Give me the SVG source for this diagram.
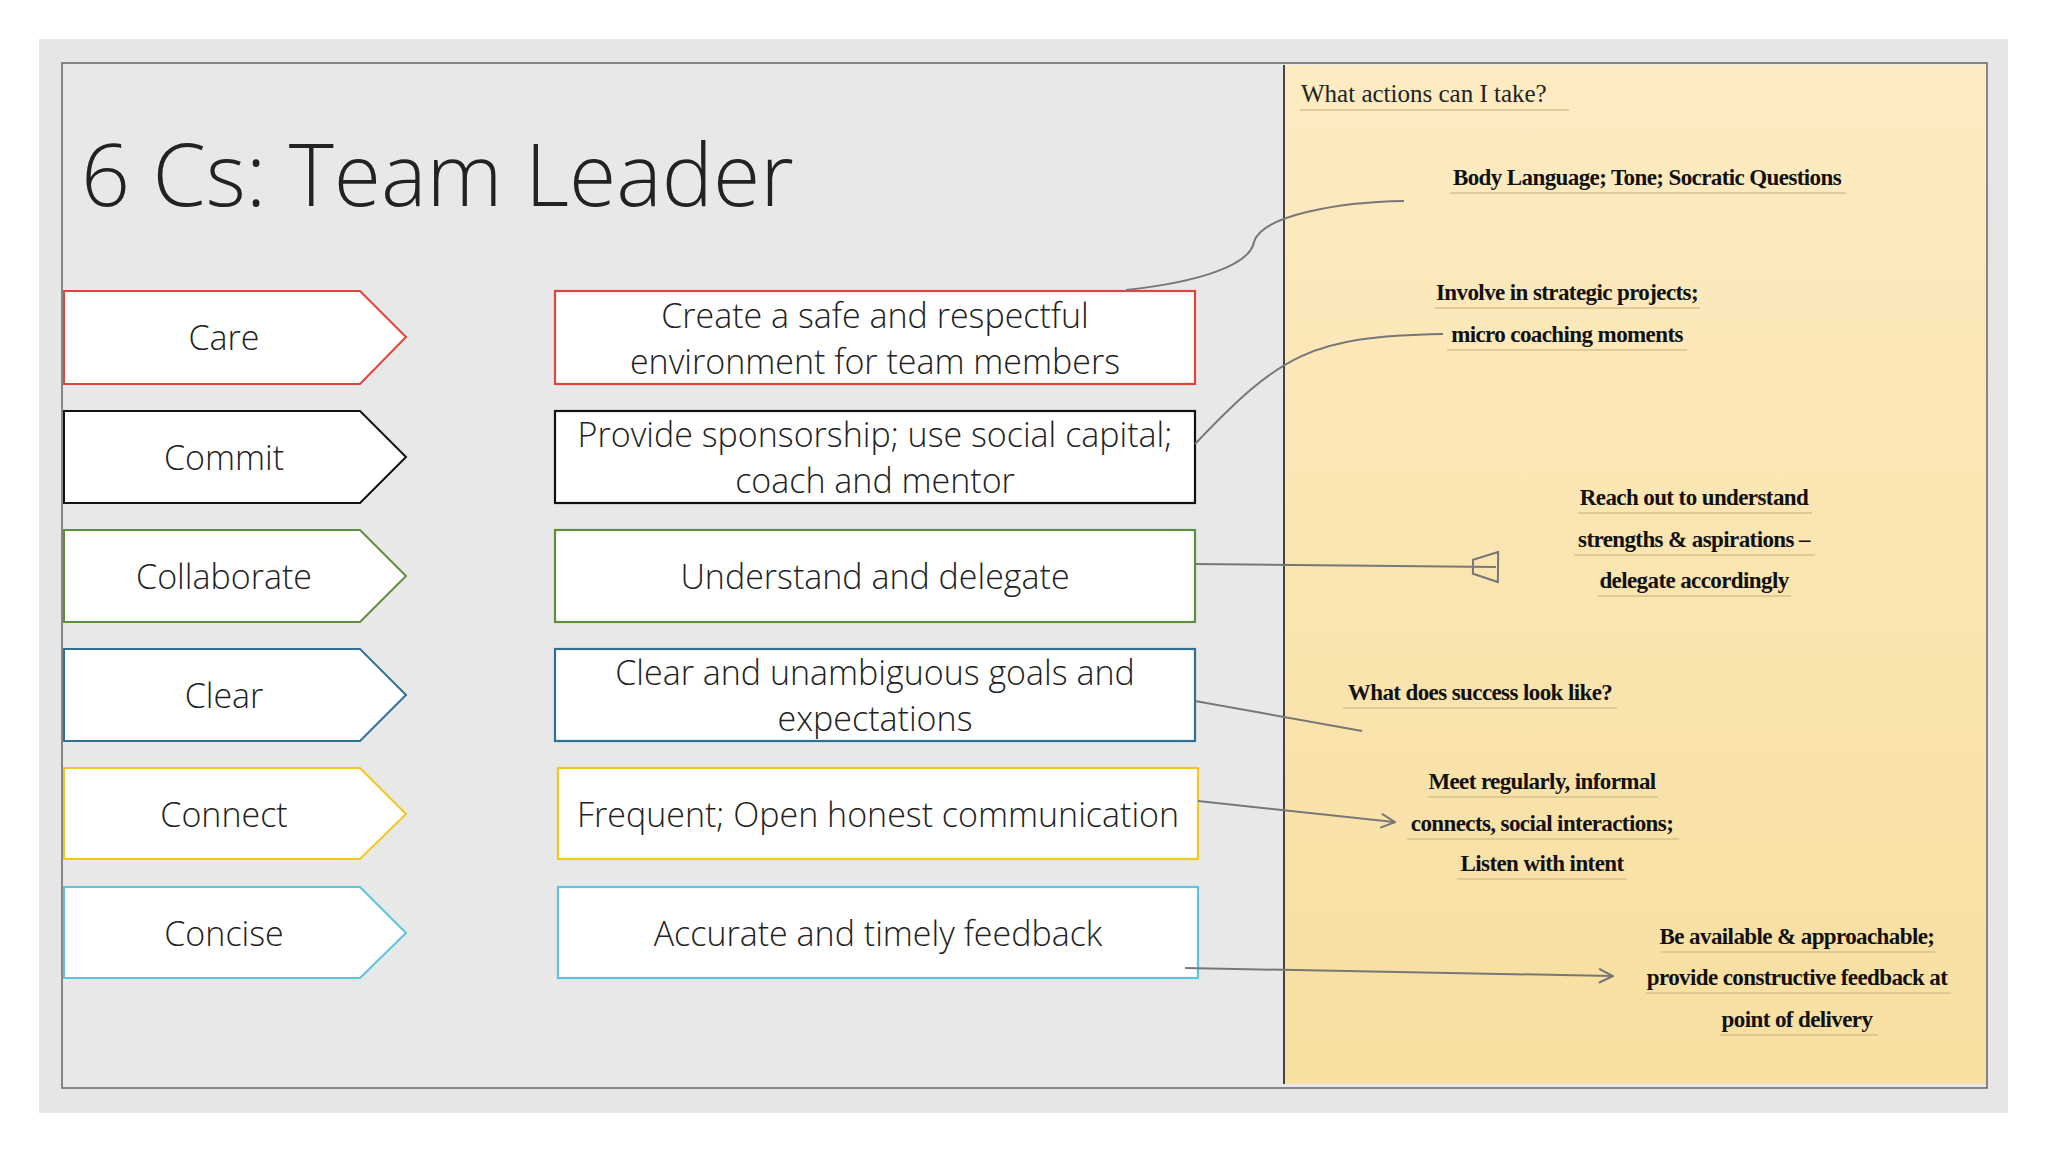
<svg xmlns="http://www.w3.org/2000/svg" width="2048" height="1152" viewBox="0 0 2048 1152">
<defs>
<linearGradient id="yel" x1="0" y1="0" x2="0" y2="1"><stop offset="0" stop-color="#fdebc2"/><stop offset="1" stop-color="#f8dfa0"/></linearGradient>
<marker id="tri" markerWidth="16" markerHeight="16" refX="14" refY="8" orient="auto" markerUnits="userSpaceOnUse"><path d="M1,1 L15,8 L1,15" fill="none" stroke="#777" stroke-width="2"/></marker>
<marker id="otri" markerWidth="30" markerHeight="34" refX="26" refY="17" orient="auto" markerUnits="userSpaceOnUse"><path d="M2,2 L27,10 L27,24 L2,32 Z" fill="none" stroke="#777" stroke-width="2" transform="scale(-1,1) translate(-30,0)"/></marker>
</defs>
<style>
.arr{stroke-width:2}
.lbl{font-family:"Open Sans","Liberation Sans",sans-serif;font-size:34px;font-weight:300;fill:#222;text-anchor:middle}
.box{stroke-width:2.2}
.rt{font-family:"Liberation Serif",serif;font-size:23px;fill:#111;text-anchor:middle;font-weight:bold;letter-spacing:-0.6px}
.ul{stroke:#d6c08e;stroke-width:1.5}
.con{fill:none;stroke:#777;stroke-width:2}
</style>
<rect width="2048" height="1152" fill="#fff"/>
<rect x="39" y="39" width="1969" height="1074" fill="#e6e6e6"/>
<rect x="62" y="63" width="1925" height="1025" fill="#e8e8e8" stroke="#666" stroke-width="1.5"/>
<rect x="1284" y="65" width="702" height="1019" fill="url(#yel)"/>
<line x1="1284" y1="65" x2="1284" y2="1084" stroke="#444" stroke-width="2"/>
<text x="81" y="206" font-family="Open Sans,Liberation Sans,sans-serif" font-weight="300" font-size="86" fill="#222">6 Cs: Team Leader</text>

<g id="care"><path class="arr" d="M64,291 H360 L406,337 L360,384 H64 Z" fill="#fff" stroke="#e0443a"/><text class="lbl" x="224" y="350">Care</text></g>
<g id="commit"><path class="arr" d="M64,411 H360 L406,457 L360,503 H64 Z" fill="#fff" stroke="#111"/><text class="lbl" x="224" y="470">Commit</text></g>
<g id="collaborate"><path class="arr" d="M64,530 H360 L406,576 L360,622 H64 Z" fill="#fff" stroke="#5e8f3e"/><text class="lbl" x="224" y="589">Collaborate</text></g>
<g id="clear"><path class="arr" d="M64,649 H360 L406,695 L360,741 H64 Z" fill="#fff" stroke="#2f7192"/><text class="lbl" x="224" y="708">Clear</text></g>
<g id="connect"><path class="arr" d="M64,768 H360 L406,814 L360,859 H64 Z" fill="#fff" stroke="#f2c81e"/><text class="lbl" x="224" y="827">Connect</text></g>
<g id="concise"><path class="arr" d="M64,887 H360 L406,933 L360,978 H64 Z" fill="#fff" stroke="#5ec4dc"/><text class="lbl" x="224" y="946">Concise</text></g>

<g id="b1"><rect class="box" x="555" y="291" width="640" height="93" fill="#fff" stroke="#e0443a"/><text class="lbl" x="875" y="328">Create a safe and respectful</text><text class="lbl" x="875" y="374">environment for team members</text></g>
<g id="b2"><rect class="box" x="555" y="411" width="640" height="92" fill="#fff" stroke="#111"/><text class="lbl" x="875" y="447">Provide sponsorship; use social capital;</text><text class="lbl" x="875" y="493">coach and mentor</text></g>
<g id="b3"><rect class="box" x="555" y="530" width="640" height="92" fill="#fff" stroke="#5e8f3e"/><text class="lbl" x="875" y="589">Understand and delegate</text></g>
<g id="b4"><rect class="box" x="555" y="649" width="640" height="92" fill="#fff" stroke="#2f7192"/><text class="lbl" x="875" y="685">Clear and unambiguous goals and</text><text class="lbl" x="875" y="731">expectations</text></g>
<g id="b5"><rect class="box" x="558" y="768" width="640" height="91" fill="#fff" stroke="#f2c81e"/><text class="lbl" x="878" y="827">Frequent; Open honest communication</text></g>
<g id="b6"><rect class="box" x="558" y="887" width="640" height="91" fill="#fff" stroke="#5ec4dc"/><text class="lbl" x="878" y="946">Accurate and timely feedback</text></g>

<g id="connectors">
<path class="con" d="M1126,290 C1200,282 1250,265 1254,242 C1262,215 1340,202 1404,201"/>
<path class="con" d="M1195,444 C1280,355 1310,336 1443,334"/>
<path class="con" d="M1195,564 L1496,567" marker-end="url(#otri)"/>
<path class="con" d="M1195,701 L1362,731"/>
<path class="con" d="M1198,801 L1394,822" marker-end="url(#tri)"/>
<path class="con" d="M1185,968 L1612,976" marker-end="url(#tri)"/>
</g>

<g id="notes">
<text x="1301" y="102" font-family="Liberation Serif,serif" font-size="25" fill="#222">What actions can I take?</text>
<line class="ul" x1="1300" y1="110" x2="1569" y2="110"/>
<text class="rt" x="1647" y="185">Body Language; Tone; Socratic Questions</text>
<line class="ul" x1="1450" y1="193" x2="1846" y2="193"/>
<text class="rt" x="1567" y="300">Involve in strategic projects;</text>
<line class="ul" x1="1434" y1="308" x2="1700" y2="308"/>
<text class="rt" x="1567" y="342">micro coaching moments</text>
<line class="ul" x1="1447" y1="350" x2="1687" y2="350"/>
<text class="rt" x="1694" y="505">Reach out to understand</text>
<line class="ul" x1="1578" y1="513" x2="1812" y2="513"/>
<text class="rt" x="1694" y="547">strengths &amp; aspirations –</text>
<line class="ul" x1="1574" y1="555" x2="1815" y2="555"/>
<text class="rt" x="1694" y="588">delegate accordingly</text>
<line class="ul" x1="1598" y1="596" x2="1791" y2="596"/>
<text class="rt" x="1480" y="700">What does success look like?</text>
<line class="ul" x1="1343" y1="708" x2="1617" y2="708"/>
<text class="rt" x="1542" y="789">Meet regularly, informal</text>
<line class="ul" x1="1428" y1="797" x2="1658" y2="797"/>
<text class="rt" x="1542" y="831">connects, social interactions;</text>
<line class="ul" x1="1407" y1="839" x2="1679" y2="839"/>
<text class="rt" x="1542" y="871">Listen with intent</text>
<line class="ul" x1="1457" y1="879" x2="1627" y2="879"/>
<text class="rt" x="1797" y="944">Be available &amp; approachable;</text>
<line class="ul" x1="1661" y1="952" x2="1935" y2="952"/>
<text class="rt" x="1797" y="985">provide constructive feedback at</text>
<line class="ul" x1="1646" y1="993" x2="1951" y2="993"/>
<text class="rt" x="1797" y="1027">point of delivery</text>
<line class="ul" x1="1720" y1="1035" x2="1878" y2="1035"/>
</g>
</svg>
